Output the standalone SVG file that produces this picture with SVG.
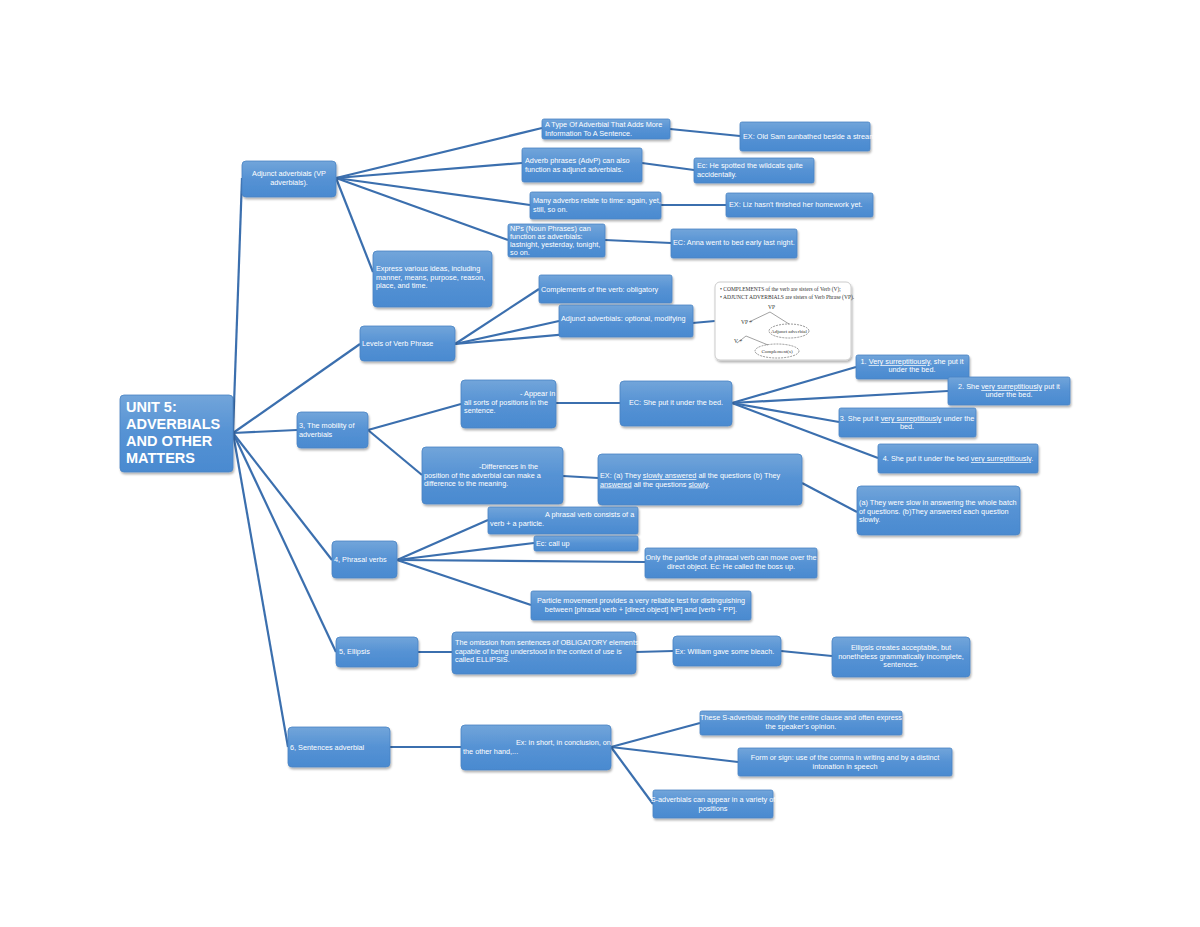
<svg xmlns="http://www.w3.org/2000/svg" width="1200" height="927" viewBox="0 0 1200 927">
<defs>
<linearGradient id="g" x1="0" y1="0" x2="0" y2="1"><stop offset="0" stop-color="#72a5da"/><stop offset="0.5" stop-color="#5592d4"/><stop offset="1" stop-color="#4a8ad0"/></linearGradient>
<filter id="sh" x="-10%" y="-10%" width="130%" height="140%"><feDropShadow dx="1" dy="2" stdDeviation="1.2" flood-color="#000" flood-opacity="0.3"/></filter>
<style>
.b{fill:url(#g);stroke:#4a84c4;stroke-width:0.8;filter:url(#sh)}
.t{font-family:"Liberation Sans",Arial,sans-serif;font-size:7.3px;fill:#fff}
.m{text-anchor:middle}
.u{text-decoration:underline}
.c line,.c polyline{stroke:#3b6fae;stroke-width:2.2;fill:none}
</style>
</defs>
<rect width="1200" height="927" fill="#fff"/>
<g class="c">
<line x1="233" y1="433" x2="242" y2="178"/>
<line x1="233" y1="433" x2="360" y2="344"/>
<line x1="233" y1="433" x2="297" y2="430"/>
<line x1="233" y1="433" x2="332" y2="560"/>
<line x1="233" y1="433" x2="336" y2="652"/>
<line x1="233" y1="433" x2="288" y2="747"/>
<line x1="336" y1="178" x2="542" y2="128"/>
<line x1="336" y1="178" x2="522" y2="163"/>
<line x1="336" y1="178" x2="530" y2="205"/>
<line x1="336" y1="178" x2="508" y2="240"/>
<line x1="336" y1="178" x2="373" y2="272"/>
<line x1="670" y1="129" x2="740" y2="136"/>
<line x1="642" y1="163" x2="694" y2="170"/>
<line x1="661" y1="205" x2="726" y2="205"/>
<line x1="605" y1="240" x2="671" y2="243"/>
<line x1="455" y1="344" x2="539" y2="289"/>
<line x1="455" y1="344" x2="559" y2="321"/>
<line x1="455" y1="344" x2="715" y2="321"/>
<line x1="368" y1="430" x2="461" y2="404"/>
<line x1="368" y1="430" x2="422" y2="475"/>
<line x1="556" y1="403" x2="620" y2="403"/>
<line x1="732" y1="403" x2="856" y2="367"/>
<line x1="732" y1="403" x2="948" y2="391"/>
<line x1="732" y1="403" x2="839" y2="422"/>
<line x1="732" y1="403" x2="878" y2="458"/>
<line x1="563" y1="476" x2="598" y2="478"/>
<line x1="802" y1="483" x2="857" y2="512"/>
<line x1="397" y1="560" x2="488" y2="520"/>
<line x1="397" y1="560" x2="534" y2="543"/>
<line x1="397" y1="560" x2="645" y2="562"/>
<line x1="397" y1="560" x2="531" y2="605"/>
<line x1="418" y1="652" x2="452" y2="652"/>
<line x1="636" y1="652" x2="673" y2="651"/>
<line x1="781" y1="651" x2="832" y2="656"/>
<line x1="390" y1="747" x2="461" y2="747"/>
<line x1="611" y1="747" x2="700" y2="723"/>
<line x1="611" y1="747" x2="738" y2="762"/>
<line x1="611" y1="747" x2="653" y2="804"/>
</g>
<g id="unit"><rect class="b" x="120" y="395" width="113" height="77" rx="4"/><text class="t" style="font-size:14.5px;font-weight:bold" x="126" y="412">UNIT 5:<tspan x="126" dy="17">ADVERBIALS</tspan><tspan x="126" dy="17">AND OTHER</tspan><tspan x="126" dy="17">MATTERS</tspan></text></g>
<g id="adj"><rect class="b" x="242" y="161" width="94" height="36" rx="4"/><text class="t m" x="289" y="176">Adjunct adverbials (VP<tspan x="289" dy="8.5">adverbials).</tspan></text></g>
<g id="atype"><rect class="b" x="542" y="119" width="128" height="20" rx="2"/><text class="t" x="545" y="127">A Type Of Adverbial That Adds More<tspan x="545" dy="8.5">Information To A Sentence.</tspan></text></g>
<g id="oldsam"><rect class="b" x="740" y="122" width="130" height="29" rx="2"/><text class="t" x="743" y="139">EX: Old Sam sunbathed beside a stream.</text></g>
<g id="advp"><rect class="b" x="522" y="148" width="120" height="34" rx="2"/><text class="t" x="525" y="163">Adverb phrases (AdvP) can also<tspan x="525" dy="8.5">function as adjunct adverbials.</tspan></text></g>
<g id="spotted"><rect class="b" x="694" y="158" width="120" height="25" rx="2"/><text class="t" x="697" y="168">Ec: He spotted the wildcats quite<tspan x="697" dy="8.5">accidentally.</tspan></text></g>
<g id="many"><rect class="b" x="530" y="192" width="131" height="27" rx="2"/><text class="t" x="533" y="203">Many adverbs relate to time: again, yet,<tspan x="533" dy="8.5">still, so on.</tspan></text></g>
<g id="liz"><rect class="b" x="726" y="193" width="147" height="24" rx="2"/><text class="t" x="729" y="207">EX: Liz hasn't finished her homework yet.</text></g>
<g id="nps"><rect class="b" x="508" y="224" width="97" height="33" rx="2"/><text class="t" x="510" y="231">NPs (Noun Phrases) can<tspan x="510" dy="8">function as adverbials:</tspan><tspan x="510" dy="8">lastnight, yesterday, tonight,</tspan><tspan x="510" dy="8">so on.</tspan></text></g>
<g id="anna"><rect class="b" x="671" y="229" width="126" height="29" rx="2"/><text class="t" x="673" y="245">EC: Anna went to bed early last night.</text></g>
<g id="express"><rect class="b" x="373" y="251" width="119" height="56" rx="4"/><text class="t" x="376" y="271">Express various ideas, including<tspan x="376" dy="8.5">manner, means, purpose, reason,</tspan><tspan x="376" dy="8.5">place, and time.</tspan></text></g>
<g id="compl"><rect class="b" x="539" y="275" width="133" height="28" rx="2"/><text class="t" x="541" y="292">Complements of the verb: obligatory</text></g>
<g id="optional"><rect class="b" x="559" y="305" width="134" height="32" rx="2"/><text class="t" x="561" y="321">Adjunct adverbials: optional, modifying</text></g>
<g id="tree"><rect x="715" y="282" width="136" height="78" rx="5" fill="#fff" stroke="#ccc" filter="url(#sh)"/>
<text font-family="Liberation Serif,serif" font-size="5.5" fill="#333" x="720" y="291">• COMPLEMENTS of the verb are sisters of Verb (V);<tspan x="720" dy="8">• ADJUNCT ADVERBIALS are sisters of Verb Phrase (VP).</tspan><tspan x="768" dy="10">VP</tspan><tspan x="741" dy="15">VP    +</tspan><tspan x="734" dy="19">V    +</tspan></text>
<ellipse cx="789" cy="331" rx="20" ry="7" fill="none" stroke="#555" stroke-width="0.6" stroke-dasharray="2 1"/>
<ellipse cx="777" cy="351" rx="22" ry="7" fill="none" stroke="#555" stroke-width="0.6" stroke-dasharray="2 1"/>
<text font-family="Liberation Serif,serif" font-size="5" fill="#333" x="789" y="333" text-anchor="middle">Adjunct adverbial</text>
<text font-family="Liberation Serif,serif" font-size="5" fill="#333" x="777" y="353" text-anchor="middle">Complement(s)</text>
<polyline points="749,322 770,312 789,324" stroke="#444" stroke-width="0.5" fill="none"/>
<polyline points="737,343 746,336 768,345" stroke="#444" stroke-width="0.5" fill="none"/></g>
<g id="levels"><rect class="b" x="360" y="326" width="95" height="35" rx="4"/><text class="t" x="362" y="346">Levels of Verb Phrase</text></g>
<g id="s1"><rect class="b" x="856" y="355" width="113" height="24" rx="2"/><text class="t m" x="912" y="364">1. <tspan class="u">Very surreptitiously</tspan>, she put it<tspan x="912" dy="8">under the bed.</tspan></text></g>
<g id="s2"><rect class="b" x="948" y="377" width="122" height="28" rx="2"/><text class="t m" x="1009" y="389">2. She <tspan class="u">very surreptitiously</tspan> put it<tspan x="1009" dy="8">under the bed.</tspan></text></g>
<g id="s3"><rect class="b" x="839" y="408" width="137" height="29" rx="2"/><text class="t m" x="907" y="421">3. She put it <tspan class="u">very surreptitiously</tspan> under the<tspan x="907" dy="8">bed.</tspan></text></g>
<g id="s4"><rect class="b" x="878" y="444" width="160" height="29" rx="2"/><text class="t m" x="958" y="461">4. She put it under the bed <tspan class="u">very surreptitiously</tspan>.</text></g>
<g id="mob"><rect class="b" x="297" y="412" width="71" height="36" rx="4"/><text class="t" x="299" y="428">3, The mobility of<tspan x="299" dy="8.5">adverbials</tspan></text></g>
<g id="appear"><rect class="b" x="461" y="380" width="95" height="48" rx="4"/><text class="t" x="464" y="396"><tspan x="520">-  Appear in</tspan><tspan x="464" dy="8.5">all sorts of positions in the</tspan><tspan x="464" dy="8.5">sentence.</tspan></text></g>
<g id="putit"><rect class="b" x="620" y="381" width="112" height="45" rx="4"/><text class="t m" x="676" y="405">EC: She put it under the bed.</text></g>
<g id="diff"><rect class="b" x="422" y="447" width="141" height="57" rx="4"/><text class="t" x="424" y="469"><tspan x="479">-Differences in the</tspan><tspan x="424" dy="8.5">position of the adverbial can make a</tspan><tspan x="424" dy="8.5">difference to the meaning.</tspan></text></g>
<g id="exa"><rect class="b" x="598" y="454" width="204" height="51" rx="4"/><text class="t" x="600" y="478">EX:  (a) They <tspan class="u">slowly answered</tspan> all the questions    (b) They<tspan x="600" dy="8.5" class="u">answered</tspan> all the questions <tspan class="u">slowly</tspan>.</text></g>
<g id="slow"><rect class="b" x="857" y="486" width="163" height="49" rx="4"/><text class="t" x="859" y="505">(a) They were slow in answering the whole batch<tspan x="859" dy="8.5">of questions.  (b)They answered each question</tspan><tspan x="859" dy="8.5">slowly.</tspan></text></g>
<g id="pv1"><rect class="b" x="488" y="507" width="150" height="27" rx="2"/><text class="t" x="490" y="517"><tspan x="545">A phrasal verb consists of a</tspan><tspan x="490" dy="8.5">verb + a particle.</tspan></text></g>
<g id="callup"><rect class="b" x="534" y="536" width="104" height="15" rx="2"/><text class="t" x="536" y="546">Ec: call up</text></g>
<g id="pv"><rect class="b" x="332" y="541" width="65" height="37" rx="4"/><text class="t" x="334" y="562">4, Phrasal verbs</text></g>
<g id="only"><rect class="b" x="645" y="548" width="172" height="30" rx="2"/><text class="t m" x="731" y="560">Only the particle of a phrasal verb can move over the<tspan x="731" dy="8.5">direct object. Ec: He called the boss up.</tspan></text></g>
<g id="particle"><rect class="b" x="531" y="591" width="220" height="29" rx="2"/><text class="t m" x="641" y="603">Particle movement provides a very reliable test for distinguishing<tspan x="641" dy="8.5">between [phrasal verb + [direct object] NP] and [verb + PP].</tspan></text></g>
<g id="ell"><rect class="b" x="336" y="637" width="82" height="30" rx="4"/><text class="t" x="339" y="654">5, Ellipsis</text></g>
<g id="omission"><rect class="b" x="452" y="632" width="184" height="42" rx="4"/><text class="t" x="455" y="645">The omission from sentences of OBLIGATORY elements<tspan x="455" dy="8.5">capable of being understood in the context of use is</tspan><tspan x="455" dy="8.5">called ELLIPSIS.</tspan></text></g>
<g id="william"><rect class="b" x="673" y="636" width="108" height="30" rx="4"/><text class="t" x="675" y="654">Ex: William gave some bleach.</text></g>
<g id="ellc"><rect class="b" x="832" y="637" width="138" height="40" rx="4"/><text class="t m" x="901" y="650">Ellipsis creates acceptable, but<tspan x="901" dy="8.5">nonetheless grammatically incomplete,</tspan><tspan x="901" dy="8.5">sentences.</tspan></text></g>
<g id="sent"><rect class="b" x="288" y="727" width="102" height="40" rx="4"/><text class="t" x="290" y="750">6, Sentences adverbial</text></g>
<g id="inshort"><rect class="b" x="461" y="725" width="150" height="45" rx="4"/><text class="t" x="463" y="745"><tspan x="516">Ex: in short, in conclusion, on</tspan><tspan x="463" dy="8.5">the other hand,...</tspan></text></g>
<g id="these"><rect class="b" x="700" y="711" width="202" height="24" rx="2"/><text class="t m" x="801" y="720">These S-adverbials modify the entire clause and often express<tspan x="801" dy="8.5">the speaker's opinion.</tspan></text></g>
<g id="form"><rect class="b" x="738" y="748" width="214" height="28" rx="2"/><text class="t m" x="845" y="760">Form or sign: use of the comma in writing and by a distinct<tspan x="845" dy="8.5">intonation in speech</tspan></text></g>
<g id="sadv"><rect class="b" x="653" y="790" width="120" height="28" rx="2"/><text class="t m" x="713" y="802">S-adverbials can appear in a variety of<tspan x="713" dy="8.5">positions</tspan></text></g>
</svg>
